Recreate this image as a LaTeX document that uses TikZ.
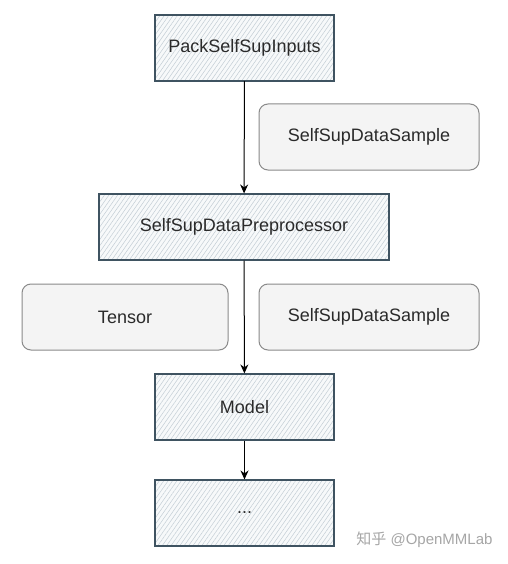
\documentclass[tikz,border=0pt]{standalone}
\usepackage{fontspec}
\setmainfont{Liberation Sans}
\newfontfamily\cjk{Noto Sans CJK SC}
\usetikzlibrary{patterns.meta,arrows.meta}
\definecolor{hatchline}{HTML}{C3CDD5}
\definecolor{hatchbg}{HTML}{F7F9FA}
\definecolor{hatchborder}{HTML}{3F5361}
\definecolor{softfill}{HTML}{F4F4F4}
\definecolor{softborder}{HTML}{8A8A8A}
\definecolor{txt}{HTML}{2A2A2A}
\tikzset{
  hatchbox/.style={draw=hatchborder, line width=1.1pt,
    preaction={fill=hatchbg},
    pattern={Lines[angle=55,distance=3.6pt,line width=0.5pt]},
    pattern color=hatchline,
    minimum height=66pt, inner sep=0pt, text=txt, font=\fontsize{18}{21}\selectfont},
  softbox/.style={draw=softborder, line width=1pt, fill=softfill, rounded corners=9pt,
    minimum width=220pt, minimum height=66pt, inner sep=0pt, text=txt, font=\fontsize{18}{21}\selectfont},
  flow/.style={-{Stealth[length=9pt,width=8pt]}, line width=1pt, black}
}
\begin{document}
\begin{tikzpicture}[x=1pt,y=-1pt]
\useasboundingbox (0,0) rectangle (507,564);
\fill[white] (0,0) rectangle (507,564);
\node[hatchbox, minimum width=179pt] (pack) at (244.5,48) {PackSelfSupInputs};
\node[softbox] (ds1) at (369,137) {SelfSupDataSample};
\node[hatchbox, minimum width=290pt] (pre) at (244,227) {SelfSupDataPreprocessor};
\node[softbox, minimum width=206pt] (tensor) at (125,317) {Tensor};
\node[softbox] (ds2) at (369,317) {SelfSupDataSample};
\node[hatchbox, minimum width=179pt] (model) at (244.5,407) {Model};
\node[hatchbox, minimum width=179pt] (etc) at (244.5,513) {...};
\draw[flow] (pack) -- (pre);
\draw[flow] (pre) -- (model);
\draw[flow] (model) -- (etc);
\node[text=black!35, font=\fontsize{15}{17}\selectfont, anchor=east] (wm) at (496,540) {{\cjk 知乎} @OpenMMLab};
\end{tikzpicture}
\end{document}
